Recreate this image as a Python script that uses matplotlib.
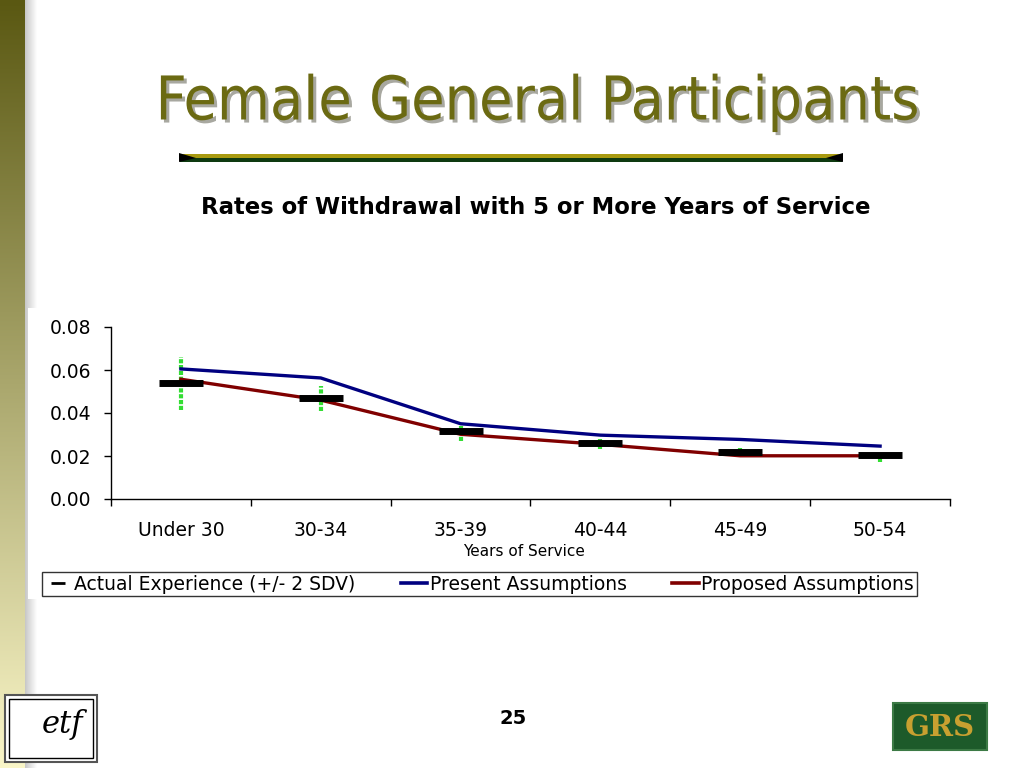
import numpy as np
import matplotlib
matplotlib.use("Agg")
import matplotlib.pyplot as plt
import matplotlib.patheffects as pe
from matplotlib.lines import Line2D
from matplotlib.patches import Rectangle, Polygon

categories = ["Under 30", "30-34", "35-39", "40-44", "45-49", "50-54"]
actual = [0.0541, 0.0471, 0.0316, 0.0260, 0.0217, 0.0205]
actual_hi = [0.0659, 0.0526, 0.0340, 0.0282, 0.0236, 0.0210]
actual_lo = [0.0414, 0.0411, 0.0271, 0.0231, 0.0200, 0.0173]
present = [0.0605, 0.0563, 0.0350, 0.0297, 0.0277, 0.0246]
proposed = [0.0557, 0.0460, 0.0301, 0.0254, 0.0201, 0.0201]
yticks = [0.00, 0.02, 0.04, 0.06, 0.08]

W, H = 1024, 768
fig = plt.figure(figsize=(W / 100, H / 100), dpi=100)
fig.patch.set_facecolor("white")

def fx(px):
    return px / W

def fy(py):
    return 1 - py / H

# left gradient strip
ax_bg = fig.add_axes([0, 0, fx(25), 1])
top = np.array([0x5a, 0x58, 0x12]) / 255
bot = np.array([0xfa, 0xf6, 0xc8]) / 255
t = np.linspace(0, 1, 256)[:, None]
grad = (top[None, :] * (1 - t) + bot[None, :] * t)[:, None, :]
ax_bg.imshow(grad, aspect="auto", extent=[0, 1, 0, 1])
ax_bg.axis("off")
# shadow
ax_sh = fig.add_axes([fx(25), 0, fx(12), 1])
s = np.linspace(0, 1, 64)[None, :]
shade = (0.78 + 0.22 * s)[:, :, None] * np.ones((1, 1, 3))
ax_sh.imshow(shade, aspect="auto", extent=[0, 1, 0, 1])
ax_sh.axis("off")

# white chart panel
fig.patches.append(Rectangle((fx(28), fy(599)), fx(1000 - 28), fy(308) - fy(599),
                             transform=fig.transFigure, facecolor="white",
                             edgecolor="none", zorder=0.5))

# title with shadow
title = "Female General Participants"
fig.text(fx(537), fy(103), title, ha="center", va="center",
         fontsize=43.5, color="#6b6a12", family="DejaVu Sans", stretch="condensed",
         path_effects=[pe.SimplePatchShadow(offset=(2.2, -2.2), shadow_rgbFace="#a8a8a0",
                                            alpha=1.0),
                       pe.Normal()])

# decorative rule under title
fig.patches.append(Rectangle((fx(180), fy(158)), fx(842 - 180), 4 / H,
                             transform=fig.transFigure, facecolor="#a89a10",
                             edgecolor="none"))
fig.patches.append(Rectangle((fx(180), fy(162)), fx(842 - 180), 4 / H,
                             transform=fig.transFigure, facecolor="#0e3a10",
                             edgecolor="none"))
fig.patches.append(Polygon([(fx(179), fy(153)), (fx(179), fy(162)), (fx(196), fy(158))],
                           closed=True, transform=fig.transFigure, facecolor="black"))
fig.patches.append(Polygon([(fx(843), fy(153)), (fx(843), fy(162)), (fx(826), fy(158))],
                           closed=True, transform=fig.transFigure, facecolor="black"))

# subtitle
fig.text(fx(536), fy(208), "Rates of Withdrawal with 5 or More Years of Service",
         ha="center", va="center", fontsize=16.4, fontweight="bold", color="black")

# main axes
ax = fig.add_axes([fx(111), fy(499), fx(950 - 111), fy(327) - fy(499)])
ax.set_zorder(3)
x = np.arange(len(categories))
ax.vlines(x, actual_lo, actual_hi, colors="#33dd33", linewidth=3,
          linestyles=(0, (1, 0.4)), zorder=2)
ax.plot(x, present, color="#000080", linewidth=2.4, zorder=3, label="Present Assumptions")
ax.plot(x, proposed, color="#800000", linewidth=2.4, zorder=3, label="Proposed Assumptions")
ax.plot(x, actual, linestyle="none", marker="_", markersize=32, mew=5,
        color="black", zorder=4, label="Actual Experience (+/- 2 SDV)")

ax.set_xlim(-0.5, len(categories) - 0.5)
ax.set_ylim(0, 0.08)
ax.set_yticks(yticks)
ax.set_yticklabels([f"{v:.2f}" for v in yticks], fontsize=13.5)
ax.set_xticks(np.arange(-0.5, len(categories), 1.0))
ax.set_xticklabels([])
ax.set_xticks(x, minor=True)
ax.set_xticklabels(categories, minor=True, fontsize=13.5)
ax.tick_params(axis="x", which="major", direction="out", length=5, width=1)
ax.tick_params(axis="x", which="minor", length=0, pad=16)
ax.tick_params(axis="y", direction="out", length=5, width=1, pad=9)
for sp in ["top", "right"]:
    ax.spines[sp].set_visible(False)
ax.spines["left"].set_linewidth(1)
ax.spines["bottom"].set_linewidth(1)
ax.set_facecolor("none")

fig.text(fx(524), fy(552), "Years of Service", ha="center", va="center", fontsize=11)

handles = [
    Line2D([], [], color="black", marker="_", linestyle="none", markersize=10, mew=2),
    Line2D([], [], color="#000080", linewidth=2.6),
    Line2D([], [], color="#800000", linewidth=2.6),
]
labels = ["Actual Experience (+/- 2 SDV)", "Present Assumptions", "Proposed Assumptions"]
leg = fig.legend(handles, labels, loc="center",
                 bbox_to_anchor=(fx(42), fy(597), fx(917 - 42), 26 / H), mode="expand",
                 ncol=3, fontsize=13.5, frameon=True, fancybox=False,
                 edgecolor="black", borderpad=0.15, borderaxespad=0, handlelength=1.4,
                 handletextpad=0.15, columnspacing=1.6)
leg.get_frame().set_linewidth(1)
leg.set_zorder(4)

# page number
fig.text(fx(513), fy(718), "25", ha="center", va="center", fontsize=14,
         fontweight="bold")

# etf logo approximation
fig.patches.append(Rectangle((fx(5), fy(762)), fx(92), fy(695) - fy(762),
                             transform=fig.transFigure, facecolor="white",
                             edgecolor="#555555", linewidth=1.5))
fig.patches.append(Rectangle((fx(9), fy(758)), fx(84), fy(699) - fy(758),
                             transform=fig.transFigure, facecolor="white",
                             edgecolor="black", linewidth=1))
fig.text(fx(62), fy(724), "etf", ha="center", va="center", fontsize=22,
         style="italic", family="DejaVu Serif", color="black")

# GRS logo approximation
fig.patches.append(Rectangle((fx(893), fy(750)), fx(94), fy(703) - fy(750),
                             transform=fig.transFigure, facecolor="#1d5a2a",
                             edgecolor="#3c7a45", linewidth=1.5))
fig.text(fx(940), fy(727), "GRS", ha="center", va="center", fontsize=21,
         fontweight="bold", family="DejaVu Serif", color="#c8a030")

fig.savefig("out.png", dpi=100)
